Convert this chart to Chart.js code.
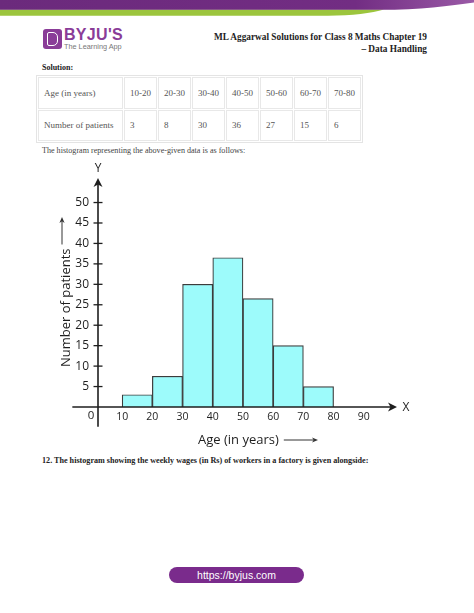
<!DOCTYPE html>
<html lang="en">
<head>
    <meta charset="UTF-8">
    <title>Histogram - Number of patients</title>
    <style>
        body {
            margin: 0;
            width: 474px;
            height: 613px;
            position: relative;
            background: #fff;
            overflow: hidden;
            font-family: "Liberation Serif", serif;
        }
        .abs { position: absolute; }
        #banner { left: 0; top: 0; }
        #logoBox {
            left: 43px; top: 29px; width: 19px; height: 20px;
            background: #8a3c98; border-radius: 3px;
        }
        #logoBox span {
            position: absolute; left: 4px; top: 3px; width: 9px; height: 12px;
            border: 1.6px solid #fff; border-radius: 2px 5px 5px 2px;
        }
        #logoName {
            left: 64px; top: 26px; font-family: "Liberation Sans", Arial, sans-serif;
            font-weight: bold; font-size: 16px; color: #8a3c98; letter-spacing: 0.3px;
        }
        #logoSub {
            left: 64px; top: 42px; font-family: "Liberation Sans", Arial, sans-serif;
            font-size: 7.3px; color: #777;
        }
        #head {
            right: 47px; top: 32px; text-align: right; font-weight: bold;
            font-size: 9.3px; line-height: 11.5px; color: #222;
        }
        #sol { left: 42px; top: 63px; font-weight: bold; font-size: 8px; color: #222; }
        table {
            position: absolute; left: 36px; top: 75px; width: 327px; height: 68px;
            table-layout: fixed; border-collapse: separate; border-spacing: 1px;
            border: 1px solid #e4e4e4;
        }
        td {
            border: 1px solid #e8e8e8; padding: 0 0 0 5px; font-size: 9px; color: #555;
            vertical-align: middle;
        }
        #intro { left: 42px; top: 146px; font-size: 8.1px; color: #444; }
        #q12 { left: 42px; top: 456px; font-weight: bold; font-size: 8.15px; color: #222; }
        #footer {
            left: 169px; top: 567px; width: 135px; height: 16px; border-radius: 8px;
            background: #7a2b8c; color: #fff; text-align: center;
            font-family: "Liberation Sans", Arial, sans-serif; font-size: 10.5px; line-height: 16px;
        }
        #chartWrap { left: 0; top: 150px; width: 474px; height: 300px; }
    </style>
</head>
<body>
    <svg id="banner" class="abs" width="474" height="20">
        <defs>
            <linearGradient id="pg" x1="0" x2="1" y1="0" y2="0">
                <stop offset="0" stop-color="#6b2a7c"/>
                <stop offset="0.75" stop-color="#722d83"/>
                <stop offset="1" stop-color="#9a5aa6"/>
            </linearGradient>
        </defs>
        <path d="M0,9.5 H384 C372,13 352,15.7 328,15.7 H0 Z" fill="#9cc53d"/>
        <path d="M0,0 H474 V2.5 C450,6 420,9.8 380,9.8 H0 Z" fill="url(#pg)"/>
    </svg>

    <div id="logoBox" class="abs"><span></span></div>
    <div id="logoName" class="abs">BYJU'S</div>
    <div id="logoSub" class="abs">The Learning App</div>
    <div id="head" class="abs">ML Aggarwal Solutions for Class 8 Maths Chapter 19<br>– Data Handling</div>
    <div id="sol" class="abs">Solution:</div>
    <table id="dataTable">
        <colgroup><col style="width:85px"></colgroup>
        <tr id="rowAge"></tr>
        <tr id="rowCount"></tr>
    </table>
    <div id="intro" class="abs">The histogram representing the above-given data is as follows:</div>

    <div id="chartWrap" class="abs"><canvas id="histChart" width="474" height="300"></canvas></div>

    <div id="q12" class="abs">12. The histogram showing the weekly wages (in Rs) of workers in a factory is given alongside:</div>
    <div id="footer" class="abs">https://byjus.com</div>

    <script src="https://cdn.jsdelivr.net/npm/chart.js"></script>
    <script>
        // class intervals and values
        const classStart = [10, 20, 30, 40, 50, 60, 70];
        const classEnd = [20, 30, 40, 50, 60, 70, 80];
        const tableCounts = [3, 8, 30, 36, 27, 15, 6];      // as printed in the table
        const barHeights = [3, 7.5, 30, 36.5, 26.5, 15, 5]; // as drawn in the histogram
        const xTickLabels = [10, 20, 30, 40, 50, 60, 70, 80, 90];
        const yTickLabels = [5, 10, 15, 20, 25, 30, 35, 40, 45, 50];

        // fill the table
        const rowAge = document.getElementById('rowAge');
        const rowCount = document.getElementById('rowCount');
        rowAge.innerHTML = '<td>Age (in years)</td>' + classStart.map((s, i) => `<td>${s}-${classEnd[i]}</td>`).join('');
        rowCount.innerHTML = '<td>Number of patients</td>' + tableCounts.map(v => `<td>${v}</td>`).join('');

        const ink = '#1e1e1e';

        function arrowHead(ctx, x, y, dir, len, half) {
            // dir: 'up' or 'right'
            ctx.beginPath();
            if (dir === 'up') {
                ctx.moveTo(x, y);
                ctx.lineTo(x - half, y + len);
                ctx.lineTo(x, y + len * 0.72);
                ctx.lineTo(x + half, y + len);
            } else {
                ctx.moveTo(x, y);
                ctx.lineTo(x - len, y - half);
                ctx.lineTo(x - len * 0.72, y);
                ctx.lineTo(x - len, y + half);
            }
            ctx.closePath();
            ctx.fill();
        }

        const axesPlugin = {
            id: 'axesPlugin',
            afterDatasetsDraw(chart) {
                const ctx = chart.ctx;
                const xs = chart.scales.x;
                const ys = chart.scales.y;
                const area = chart.chartArea;
                const x0 = xs.getPixelForValue(xs.min);
                const y0 = ys.getPixelForValue(0);
                ctx.save();
                ctx.strokeStyle = ink;
                ctx.fillStyle = ink;
                ctx.lineWidth = 1.6;

                // x axis
                const xLeft = xs.getPixelForValue(-6.5);
                const xRight = xs.getPixelForValue(xs.max);
                ctx.beginPath();
                ctx.moveTo(xLeft, y0);
                ctx.lineTo(xRight - 5, y0);
                ctx.stroke();
                arrowHead(ctx, xRight, y0, 'right', 9, 4.5);

                // y axis
                const yBottom = ys.getPixelForValue(-4.8);
                const yTop = ys.getPixelForValue(ys.max);
                ctx.beginPath();
                ctx.moveTo(x0, yBottom);
                ctx.lineTo(x0, yTop + 5);
                ctx.stroke();
                arrowHead(ctx, x0, yTop, 'up', 9, 4.5);

                // y tick marks crossing the axis
                ctx.lineWidth = 1.3;
                yTickLabels.forEach(v => {
                    const py = ys.getPixelForValue(v);
                    ctx.beginPath();
                    ctx.moveTo(x0 - 4.5, py);
                    ctx.lineTo(x0 + 4.5, py);
                    ctx.stroke();
                });

                // axis letters and origin
                ctx.font = '12px "Open Sans"';
                ctx.textAlign = 'center';
                ctx.textBaseline = 'middle';
                ctx.fillText('Y', x0, yTop - 9);
                ctx.fillText('X', xRight + 9, y0 + 1);
                ctx.font = '11.5px "Open Sans"';
                ctx.fillText('0', x0 - 7, y0 + 9);

                // x axis title with arrow
                ctx.font = '13px "Open Sans"';
                ctx.textAlign = 'left';
                const tx = area.left + 100;
                const ty = area.bottom + 33;
                ctx.fillText('Age (in years)', tx, ty);
                const tw = ctx.measureText('Age (in years)').width;
                ctx.fillStyle = '#333';
                ctx.strokeStyle = '#333';
                ctx.lineWidth = 1;
                ctx.beginPath();
                ctx.moveTo(tx + tw + 5, ty);
                ctx.lineTo(area.left + 216, ty);
                ctx.stroke();
                arrowHead(ctx, area.left + 220, ty, 'right', 6, 2.6);

                // y axis title with arrow
                ctx.fillStyle = ink;
                ctx.save();
                ctx.translate(area.left - 32, area.bottom - 40);
                ctx.rotate(-Math.PI / 2);
                ctx.textAlign = 'left';
                ctx.fillText('Number of patients', 0, 0);
                const nw = ctx.measureText('Number of patients').width;
                ctx.restore();
                ctx.fillStyle = '#333';
                ctx.beginPath();
                ctx.moveTo(area.left - 36, area.bottom - 40 - nw - 4);
                ctx.lineTo(area.left - 36, area.top + 43);
                ctx.stroke();
                arrowHead(ctx, area.left - 36, area.top + 39, 'up', 6, 2.6);

                ctx.restore();
            }
        };

        const ctx = document.getElementById('histChart').getContext('2d');
        new Chart(ctx, {
            type: 'bar',
            data: {
                datasets: [{
                    label: 'Number of patients',
                    data: classStart.map((s, i) => ({ x: (s + classEnd[i]) / 2, y: barHeights[i] })),
                    backgroundColor: '#9dfbfb',
                    borderColor: '#3c3c3c',
                    borderWidth: 1.2,
                    barPercentage: 1,
                    categoryPercentage: 1
                }]
            },
            options: {
                responsive: false,
                animation: false,
                events: [],
                layout: { padding: { top: 28, right: 77, bottom: 0, left: 0 } },
                plugins: { legend: { display: false }, tooltip: { enabled: false } },
                scales: {
                    x: {
                        type: 'linear',
                        min: 2,
                        max: 101,
                        offset: false,
                        grid: { display: false, drawTicks: false, offset: false },
                        border: { display: false },
                        afterBuildTicks: s => { s.ticks = xTickLabels.map(v => ({ value: v })); },
                        afterFit: s => { s.height = 43; },
                        ticks: {
                            autoSkip: false,
                            maxRotation: 0,
                            padding: 4,
                            color: ink,
                            font: { family: 'Open Sans', size: 10.5 }
                        }
                    },
                    y: {
                        min: 0,
                        max: 56,
                        grid: { display: false, drawTicks: false },
                        border: { display: false },
                        afterBuildTicks: s => { s.ticks = yTickLabels.map(v => ({ value: v })); },
                        afterFit: s => { s.width = 98; },
                        ticks: {
                            padding: 9,
                            color: ink,
                            font: { family: 'Open Sans', size: 12 }
                        }
                    }
                }
            },
            plugins: [axesPlugin]
        });
    </script>
</body>
</html>
